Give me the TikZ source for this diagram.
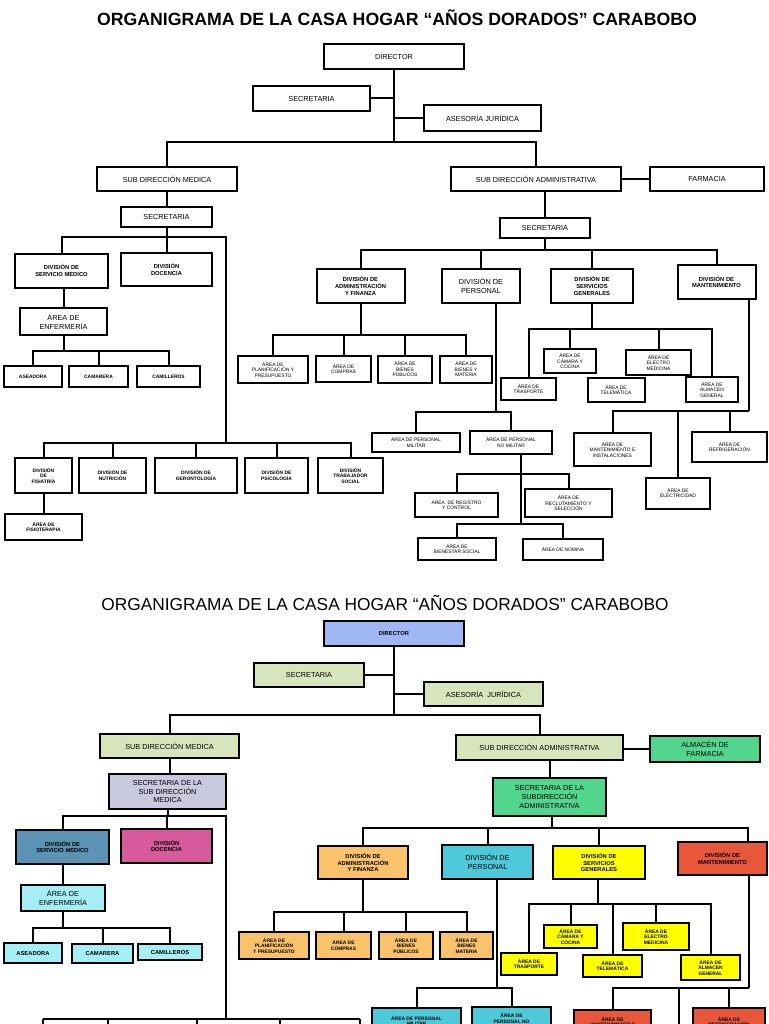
\documentclass[tikz,border=0pt]{standalone}
\usepackage{fontspec}
\setmainfont{Liberation Sans}
\definecolor{cblue}{HTML}{9FB7F5}
\definecolor{colive}{HTML}{D8E4BC}
\definecolor{cgreen}{HTML}{52D68E}
\definecolor{clav}{HTML}{C9C9E0}
\definecolor{csteel}{HTML}{5B93B5}
\definecolor{cmag}{HTML}{D65A9C}
\definecolor{clcyan}{HTML}{A6EEF5}
\definecolor{corange}{HTML}{FAC36B}
\definecolor{ccyan}{HTML}{4DC9D9}
\definecolor{cyel}{HTML}{FFFF00}
\definecolor{cred}{HTML}{E8573A}
\newcommand\fA{\fontsize{7.3}{8.8}\selectfont}
\newcommand\fB{\fontsize{5.8}{6.8}\selectfont}
\newcommand\fC{\fontsize{4.9}{5.6}\selectfont}
\newcommand\Bx[7]{\node[box,#6,minimum width=#4pt,minimum height=#5pt] (#1) at (#2,#3) {#7};}
\tikzset{
 box/.style={draw, line width=2pt, fill=white, align=center, inner sep=0.5pt, font=\fA},
 sm/.style={font=\fC},
 md/.style={font=\fB\bfseries},
 ln/.style={line width=2pt},
}
\begin{document}
\begin{tikzpicture}[x=1pt,y=-1pt]
\useasboundingbox (0,0) rectangle (768,1024);
\clip (0,0) rectangle (768,1024);
\fill[white] (0,0) rectangle (768,1024);
% ================= TOP CHART =================
\node[font=\fontsize{17.7}{19}\selectfont\bfseries] (t1) at (397,18) {ORGANIGRAMA DE LA CASA HOGAR “AÑOS DORADOS” CARABOBO};
\Bx{dir}{394}{56.5}{140}{25}{}{DIRECTOR}
\Bx{sec}{311.5}{98.5}{117}{25}{}{SECRETARIA}
\Bx{ase}{482.5}{118}{117}{26}{}{ASESORÍA JURÍDICA}
\Bx{smed}{167}{179}{140}{24}{}{SUB DIRECCIÓN MEDICA}
\Bx{sadm}{536}{179}{170}{24}{}{SUB DIRECCIÓN ADMINISTRATIVA}
\Bx{farm}{707}{179}{114}{24}{}{FARMACIA}
\Bx{secm}{166.5}{217}{91}{20}{}{SECRETARIA}
\Bx{seca}{545}{228}{90}{20}{}{SECRETARIA}
\coordinate (tb) at (394,142);
\draw[ln] (dir.south) -- (tb);
\draw[ln] (sec.east) -- (sec.east -| dir.south);
\draw[ln] (ase.west) -- (ase.west -| dir.south);
\draw[ln] (smed.north) |- (tb) -| (sadm.north);
\draw[ln] (sadm.east) -- (farm.west);
\draw[ln] (secm.north) -- (secm.north |- smed.south);
\draw[ln] (seca.north) -- (seca.north |- sadm.south);
% left branch
\Bx{dsm}{61.5}{270.5}{93}{34}{md}{DIVISIÓN DE\\SERVICIO MEDICO}
\Bx{ddoc}{166.5}{269.5}{91}{33}{md}{DIVISIÓN\\DOCENCIA}
\Bx{enf}{63.5}{321.5}{87}{27}{}{ÁREA DE\\ENFERMERÍA}
\Bx{asea}{33}{376.5}{58}{21}{sm,font=\fC\bfseries}{ASEADORA}
\Bx{cama}{98.5}{376.5}{59}{21}{sm,font=\fC\bfseries}{CAMARERA}
\Bx{cami}{168.5}{376.5}{63}{21}{sm,font=\fC\bfseries}{CAMILLEROS}
\coordinate (lb) at (226,237);
\coordinate (lb2) at (226,443);
\draw[ln] (secm.south) -- (secm.south |- lb);
\draw[ln] (dsm.north) |- (lb) -- (lb2);
\draw[ln] (ddoc.north) -- (ddoc.north |- lb);
\draw[ln] (enf.north) -- (enf.north |- dsm.south);
\coordinate (eb) at (63.5,351);
\draw[ln] (enf.south) -- (eb);
\draw[ln] (asea.north) |- (eb) -| (cami.north);
\draw[ln] (cama.north) -- (cama.north |- eb);
\Bx{fis}{43.5}{475.5}{57}{35}{sm,font=\fC\bfseries}{DIVISIÓN\\DE\\FISIATRÍA}
\Bx{nut}{112.5}{475.5}{67}{35}{sm,font=\fC\bfseries}{DIVISIÓN DE\\NUTRICIÓN}
\Bx{ger}{196}{475.5}{82}{35}{sm,font=\fC\bfseries}{DIVISIÓN DE\\GERONTOLOGÍA}
\Bx{psi}{276.5}{475.5}{63}{35}{sm,font=\fC\bfseries}{DIVISIÓN DE\\PSICOLOGÍA}
\Bx{tra}{350.5}{475.5}{65}{35}{sm,font=\fC\bfseries}{DIVISIÓN\\TRABAJADOR\\SOCIAL}
\Bx{fist}{43.5}{527}{77}{26}{sm,font=\fC\bfseries}{ÁREA DE\\FISIOTERAPIA}
\draw[ln] (fis.north) |- (lb2) -| (tra.north);
\foreach \n in {nut,ger,psi} \draw[ln] (\n.north) -- (\n.north |- lb2);
\draw[ln] (fis.south) -- (fist.north);
% right branch
\Bx{dadm}{360.5}{286}{88}{34}{md}{DIVISIÓN DE\\ADMINISTRACIÓN\\Y FINANZA}
\Bx{dper}{481}{286}{78}{34}{}{DIVISIÓN DE\\PERSONAL}
\Bx{dser}{592}{286}{82}{34}{md}{DIVISIÓN DE\\SERVICIOS\\GENERALES}
\Bx{dman}{716.5}{282}{78}{34}{md}{DIVISIÓN DE\\MANTENIMIENTO}
\coordinate (rb) at (545,250);
\draw[ln] (seca.south) -- (rb);
\draw[ln] (dadm.north) |- (rb);
\draw[ln] (rb) -| (dman.north);
\draw[ln] (dper.north) -- (dper.north |- rb);
\draw[ln] (dser.north) -- (dser.north |- rb);
\Bx{plan}{273}{369.5}{70}{27}{sm}{ÁREA DE\\PLANIFICACIÓN Y\\PRESUPUESTO}
\Bx{comp}{343.5}{369}{55}{26}{sm}{ÁREA DE\\COMPRAS}
\Bx{bpub}{405}{369}{54}{27}{sm}{ÁREA DE\\BIENES\\PÚBLICOS}
\Bx{bmat}{466}{369}{52}{27}{sm}{ÁREA DE\\BIENES Y\\MATERIA}
\coordinate (ab) at (360.5,335);
\draw[ln] (dadm.south) -- (ab);
\draw[ln] (plan.north) |- (ab) -| (bmat.north);
\draw[ln] (comp.north) -- (comp.north |- ab);
\draw[ln] (bpub.north) -- (bpub.north |- ab);
\Bx{mil}{416}{442.5}{88}{19}{sm}{ÁREA DE PERSONAL\\MILITAR}
\Bx{nomil}{511}{442.5}{82}{23}{sm}{ÁREA DE PERSONAL\\NO MILITAR}
\coordinate (pb) at (496,412);
\draw[ln] (dper.south -| pb) -- (pb);
\draw[ln] (mil.north) |- (pb) -| (nomil.north);
\Bx{reg}{456.5}{505}{83}{24}{sm}{ÁREA\ \ DE REGISTRO\\Y CONTROL}
\Bx{rec}{568.5}{503}{87}{28}{sm}{ÁREA DE\\RECLUTAMIENTO Y\\SELECCIÓN}
\Bx{bien}{457}{549}{78}{22}{sm}{ÁREA DE\\BIENESTAR SOCIAL}
\Bx{nom}{563}{549.5}{80}{21}{sm}{ÁREA DE NOMINA}
\coordinate (nb1) at (521,474);
\coordinate (nb2) at (521,524);
\draw[ln] (nomil.south -| nb2) -- (nb2);
\draw[ln] (reg.north) |- (nb1) -| (rec.north);
\draw[ln] (bien.north) |- (nb2) -| (nom.north);
\Bx{tras}{528.5}{389}{55}{22}{sm}{ÁREA DE\\TRASPORTE}
\Bx{cam}{570}{361}{52}{24}{sm}{ÁREA DE\\CÁMARA Y\\COCINA}
\Bx{tel}{616}{390}{57}{24}{sm}{ÁREA DE\\TELEMÁTICA}
\Bx{ele}{658.5}{362.5}{65}{25}{sm}{ÁREA DE\\ELECTRO\\MEDICINA}
\Bx{alm}{712}{389.5}{52}{25}{sm}{ÁREA DE\\ALMACEN\\GENERAL}
\coordinate (sb) at (592,329);
\draw[ln] (dser.south) -- (sb);
\draw[ln] (tras.north) |- (sb) -| (alm.north);
\draw[ln] (cam.north) -- (cam.north |- sb);
\draw[ln] (ele.north) -- (ele.north |- sb);
\Bx{mi}{612.5}{449.5}{77}{33}{sm}{ÁREA DE\\MANTENIMIENTO E\\INSTALACIONES}
\Bx{elc}{678}{493}{64}{31}{sm}{ÁREA DE\\ELECTRICIDAD}
\Bx{ref}{729.5}{447}{75}{30}{sm}{ÁREA DE\\REFRIGERACIÓN}
\coordinate (mb) at (749,411);
\draw[ln] (dman.south -| mb) -- (mb);
\draw[ln] (mi.north) |- (mb) -| (ref.north);
\draw[ln] (elc.north) -- (elc.north |- mb);
% ================= COLOURED CHART =================
\node[font=\fontsize{17.3}{18}\selectfont] (t2) at (385,603) {ORGANIGRAMA DE LA CASA HOGAR “AÑOS DORADOS” CARABOBO};
\Bx{cdir}{394}{633.5}{140}{25}{fill=cblue,md}{DIRECTOR}
\Bx{csec}{309}{675}{110}{24}{fill=colive}{SECRETARIA}
\Bx{case}{483.5}{694}{119}{24}{fill=colive}{ASESORÍA\ \ JURÍDICA}
\Bx{csmed}{169.5}{746}{139}{24}{fill=colive}{SUB DIRECCIÓN MEDICA}
\Bx{csadm}{539.5}{747.5}{167}{25}{fill=colive}{SUB DIRECCIÓN ADMINISTRATIVA}
\Bx{cfarm}{705}{749}{110}{26}{fill=cgreen}{ALMACÉN DE\\FARMACIA}
\Bx{csecm}{167.5}{791.5}{117}{35}{fill=clav}{SECRETARIA DE LA\\SUB DIRECCIÓN\\MEDICA}
\Bx{csecad}{549.5}{797}{113}{38}{fill=cgreen}{SECRETARIA DE LA\\SUBDIRECCIÓN\\ADMINISTRATIVA}
\coordinate (ctb) at (394,715);
\draw[ln] (cdir.south) -- (ctb);
\draw[ln] (csec.east) -- (csec.east -| cdir.south);
\draw[ln] (case.west) -- (case.west -| cdir.south);
\draw[ln] (csmed.north) |- (ctb) -| (csadm.north);
\draw[ln] (cfarm.west) -- (cfarm.west -| csadm.east);
\draw[ln] (csmed.south) -- (csmed.south |- csecm.north);
\draw[ln] (csadm.south -| csecad.north) -- (csecad.north);
\Bx{cdsm}{62.5}{847}{93}{34}{fill=csteel,md}{DIVISIÓN DE\\SERVICIO MEDICO}
\Bx{cddoc}{166.5}{846}{91}{34}{fill=cmag,md}{DIVISIÓN\\DOCENCIA}
\Bx{cenf}{63}{898}{84}{26}{fill=clcyan}{ÁREA DE\\ENFERMERÍA}
\Bx{casea}{33}{953}{58}{20}{fill=clcyan,md}{ASEADORA}
\Bx{ccama}{102.5}{953.5}{61}{19}{fill=clcyan,md}{CAMARERA}
\Bx{ccami}{170}{952}{64}{16}{fill=clcyan,md}{CAMILLEROS}
\coordinate (clb) at (226,816);
\coordinate (clb2) at (226,1019);
\draw[ln] (csecm.south) -- (csecm.south |- clb);
\draw[ln] (cdsm.north) |- (clb) -- (clb2);
\draw[ln] (cddoc.north) -- (cddoc.north |- clb);
\draw[ln] (cenf.north) -- (cenf.north |- cdsm.south);
\coordinate (ceb) at (63,928);
\draw[ln] (cenf.south) -- (ceb);
\draw[ln] (casea.north) |- (ceb) -| (ccami.north);
\draw[ln] (ccama.north) -- (ccama.north |- ceb);
\coordinate (cbl) at (43,1019);
\coordinate (cbr) at (360,1019);
\draw[ln] (cbl) -- (cbr);
\foreach \x in {43,108,197,280,360} \draw[ln] (\x,1019) -- (\x,1030);
\Bx{cdadm}{363}{862.5}{90}{33}{fill=corange,md}{DIVISIÓN DE\\ADMINISTRACIÓN\\Y FINANZA}
\Bx{cdper}{487.5}{862}{91}{34}{fill=ccyan}{DIVISIÓN DE\\PERSONAL}
\Bx{cdser}{599}{862.5}{92}{33}{fill=cyel,md}{DIVISIÓN DE\\SERVICIOS\\GENERALES}
\Bx{cdman}{722.5}{858.5}{89}{33}{fill=cred,md}{DIVISIÓN DE\\MANTENIMIENTO}
\coordinate (crb) at (552,828);
\draw[ln] (csecad.south -| crb) -- (crb);
\draw[ln] (cdadm.north) |- (crb);
\draw[ln] (crb) -| (748,842);
\foreach \n in {cdper,cdser} \draw[ln] (\n.north) -- (\n.north |- crb);
\Bx{cplan}{274}{945.5}{70}{27}{fill=corange,sm,font=\fC\bfseries}{ÁREA DE\\PLANIFICACIÓN\\Y PRESUPUESTO}
\Bx{ccomp}{343.5}{945.5}{55}{27}{fill=corange,sm,font=\fC\bfseries}{ÁREA DE\\COMPRAS}
\Bx{cbpub}{406}{945.5}{54}{27}{fill=corange,sm,font=\fC\bfseries}{ÁREA DE\\BIENES\\PÚBLICOS}
\Bx{cbmat}{466.5}{945.5}{53}{27}{fill=corange,sm,font=\fC\bfseries}{ÁREA DE\\BIENES\\MATERIA}
\coordinate (cab) at (364,912);
\draw[ln] (cdadm.south) -- (cdadm.south |- cab);
\draw[ln] (cplan.north) |- (cab) -| (cbmat.north);
\foreach \n in {ccomp,cbpub} \draw[ln] (\n.north) -- (\n.north |- cab);
\Bx{ccam}{570.5}{936.5}{53}{23}{fill=cyel,sm,font=\fC\bfseries}{ÁREA DE\\CÁMARA Y\\COCINA}
\Bx{cele}{656}{936.5}{66}{27}{fill=cyel,sm,font=\fC\bfseries}{ÁREA DE\\ELECTRO\\MEDICINA}
\Bx{ctras}{529}{964}{56}{22}{fill=cyel,sm,font=\fC\bfseries}{ÁREA DE\\TRASPORTE}
\Bx{ctel}{612.5}{966}{59}{22}{fill=cyel,sm,font=\fC\bfseries}{ÁREA DE\\TELEMÁTICA}
\Bx{calm}{710.5}{967.5}{59}{25}{fill=cyel,sm,font=\fC\bfseries}{ÁREA DE\\ALMACEN\\GENERAL}
\coordinate (csb) at (598,904);
\draw[ln] (cdser.south -| csb) -- (csb);
\draw[ln] (ctras.north) |- (csb) -| (calm.north);
\foreach \n in {ccam,ctel,cele} \draw[ln] (\n.north) -- (\n.north |- csb);
\Bx{cmil}{416.5}{1021}{89}{26}{fill=ccyan,sm,font=\fC\bfseries}{ÁREA DE PERSONAL\\MILITAR}
\Bx{cnomil}{511.5}{1021}{79}{28}{fill=ccyan,sm,font=\fC\bfseries}{ÁREA DE\\PERSONAL NO\\MILITAR}
\coordinate (cpb) at (497,988);
\draw[ln] (cdper.south -| cpb) -- (cpb);
\draw[ln] (cmil.north) |- (cpb) -| (cnomil.north);
\Bx{cmi}{612.5}{1022}{77}{24}{fill=cred,sm,font=\fC\bfseries}{ÁREA DE\\MANTENIMIENTO E}
\Bx{cref}{729}{1022}{72}{28}{fill=cred,sm,font=\fC\bfseries}{ÁREA DE\\REFRIGERACIÓN}
\coordinate (cmb) at (749,988);
\coordinate (cmd) at (679,1030);
\draw[ln] (cdman.south -| cmb) -- (cmb);
\draw[ln] (cmi.north) |- (cmb) -| (cref.north);
\draw[ln] (cmd) -- (cmd |- cmb);
\end{tikzpicture}
\end{document}
